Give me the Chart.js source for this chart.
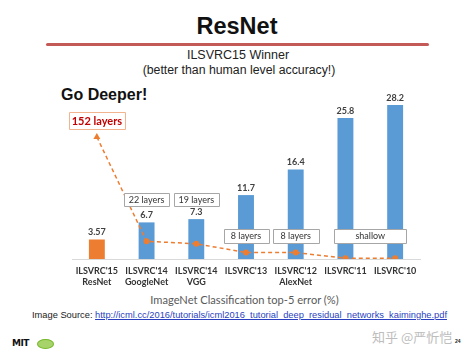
<!DOCTYPE html>
<html><head><meta charset="utf-8">
<script src="https://cdn.jsdelivr.net/npm/chart.js@4"></script>
<style>
html,body{margin:0;padding:0;background:#fff;width:474px;height:355px;overflow:hidden;position:relative;font-family:"Liberation Sans",Arial,sans-serif;}
.t{position:absolute;white-space:nowrap;}
#c{position:absolute;left:0;top:0;}
</style></head><body>
<div class="t" style="left:0;width:474px;text-align:center;top:13px;font-size:23.5px;font-weight:bold;color:#111;">ResNet</div>
<div style="position:absolute;left:46px;top:43px;width:383px;height:3px;background:#c45a57;border-radius:2px;"></div>
<div class="t" style="left:0;width:476px;text-align:center;top:48px;font-size:12.5px;color:#222;">ILSVRC15 Winner</div>
<div class="t" style="left:0;width:478px;text-align:center;top:63px;font-size:12.3px;color:#222;">(better than human level accuracy!)</div>
<div class="t" style="left:61px;top:86px;font-size:16px;font-weight:bold;color:#111;">Go Deeper!</div>
<div class="t" style="left:0;width:489px;text-align:center;top:293px;font-family:Lato,sans-serif;font-size:11.1px;color:#595959;">ImageNet Classification top-5 error (%)</div>
<div class="t" style="left:32px;top:310px;font-size:9.3px;color:#222;">Image Source: <span style="color:#2a3fbf;text-decoration:underline;">http://icml.cc/2016/tutorials/icml2016_tutorial_deep_residual_networks_kaiminghe.pdf</span></div>
<div class="t" style="left:372px;top:327px;font-family:'Noto Sans CJK SC',sans-serif;font-size:13px;color:#bdbdbd;">知乎 @严忻恺</div>
<div class="t" style="left:455px;top:338px;font-size:5px;font-weight:bold;color:#222;">24</div>
<div class="t" style="left:12px;top:338px;font-size:9px;font-weight:bold;color:#111;letter-spacing:-0.5px;font-family:'DejaVu Sans',sans-serif;">MIT</div>
<div style="position:absolute;left:37px;top:339px;width:15px;height:8px;border-radius:50%;background:#a6d46a;border:1px solid #76b82a;"></div>
<canvas id="c" width="474" height="355"></canvas>
<script>
const categories = [["ILSVRC'15","ResNet"],["ILSVRC'14","GoogleNet"],["ILSVRC'14","VGG"],["ILSVRC'13",""],["ILSVRC'12","AlexNet"],["ILSVRC'11",""],["ILSVRC'10",""]];
const errorValues = [3.57, 6.7, 7.3, 11.7, 16.4, 25.8, 28.2];
const errorLabels = ["3.57","6.7","7.3","11.7","16.4","25.8","28.2"];
const layerValues = [152, 22, 19, 8, 8, 1, 1];
const layerLabels = ["152 layers","22 layers","19 layers","8 layers","8 layers","shallow",""];

const BLUE = '#5b9bd5', ORANGE = '#ed7d31';
const barColors = errorValues.map((v,i)=> i===0 ? ORANGE : BLUE);
const pointStyles = layerValues.map((v,i)=> i===0 ? 'triangle' : 'circle');

const annot = {
  id:'annot',
  afterDatasetsDraw(chart){
    const ctx = chart.ctx;
    const x = chart.scales.x;
    const bars = chart.getDatasetMeta(1).data;
    ctx.save();
    ctx.font = 'bold 9px Lato, sans-serif';
    ctx.fillStyle = '#404040';
    ctx.textAlign = 'center';
    ctx.textBaseline = 'middle';
    bars.forEach((b,i)=>{ ctx.fillText(errorLabels[i], b.x, b.y - 7); });
    function box(cx, cy, w, h, text, border, color, font){
      ctx.fillStyle = '#fff';
      ctx.strokeStyle = border;
      ctx.lineWidth = 1;
      ctx.beginPath();
      ctx.rect(Math.round(cx - w/2)+0.5, Math.round(cy - h/2)+0.5, w, h);
      ctx.fill(); ctx.stroke();
      ctx.fillStyle = color;
      ctx.font = font;
      ctx.fillText(text, cx, cy+0.5);
    }
    const small = '9px Lato, sans-serif';
    box(x.getPixelForValue(0), 120.5, 56, 17, layerLabels[0], '#f2b48f', '#c00000', 'bold 11px Lato, sans-serif');
    box(x.getPixelForValue(1), 199.5, 45, 13, layerLabels[1], '#a6a6a6', '#333', small);
    box(x.getPixelForValue(2), 199.5, 45, 13, layerLabels[2], '#a6a6a6', '#333', small);
    box(x.getPixelForValue(3), 236, 45, 14, layerLabels[3], '#a6a6a6', '#333', small);
    box(x.getPixelForValue(4), 236, 46, 14, layerLabels[4], '#a6a6a6', '#333', small);
    box((x.getPixelForValue(5)+x.getPixelForValue(6))/2, 236, 72, 14, layerLabels[5], '#a6a6a6', '#333', small);
    ctx.restore();
  }
};

new Chart(document.getElementById('c'), {
  data: {
    labels: categories,
    datasets: [
      {
        type:'line', label:'layers', data: layerValues, yAxisID:'y2',
        borderColor: ORANGE, borderWidth: 1.5, borderDash:[4,3],
        pointStyle: pointStyles, pointRadius: layerValues.map((v,i)=> i===0?4:3),
        pointBackgroundColor: ORANGE, pointBorderColor: ORANGE, pointBorderWidth:0,
        fill:false, tension:0, order:0
      },
      {
        type:'bar', label:'error', data: errorValues, yAxisID:'y',
        backgroundColor: barColors, barPercentage:0.32, categoryPercentage:1, order:1
      }
    ]
  },
  options: {
    responsive:false, animation:false,
    layout:{padding:{left:72, right:54, top:100, bottom:56}},
    plugins:{legend:{display:false}, tooltip:{enabled:false}},
    scales:{
      x:{
        grid:{display:false, drawTicks:false},
        border:{color:'#d9d9d9', width:1},
        ticks:{color:'#333', font:{family:'Lato, sans-serif', size:9, weight:'bold', lineHeight:1.2}, padding:7, maxRotation:0, autoSkip:false},
        afterFit(s){ s.height = 40; }
      },
      y:{display:false, min:0, max:29.1},
      y2:{display:false, min:0, max:198}
    }
  },
  plugins:[annot]
});
</script>
</body></html>
